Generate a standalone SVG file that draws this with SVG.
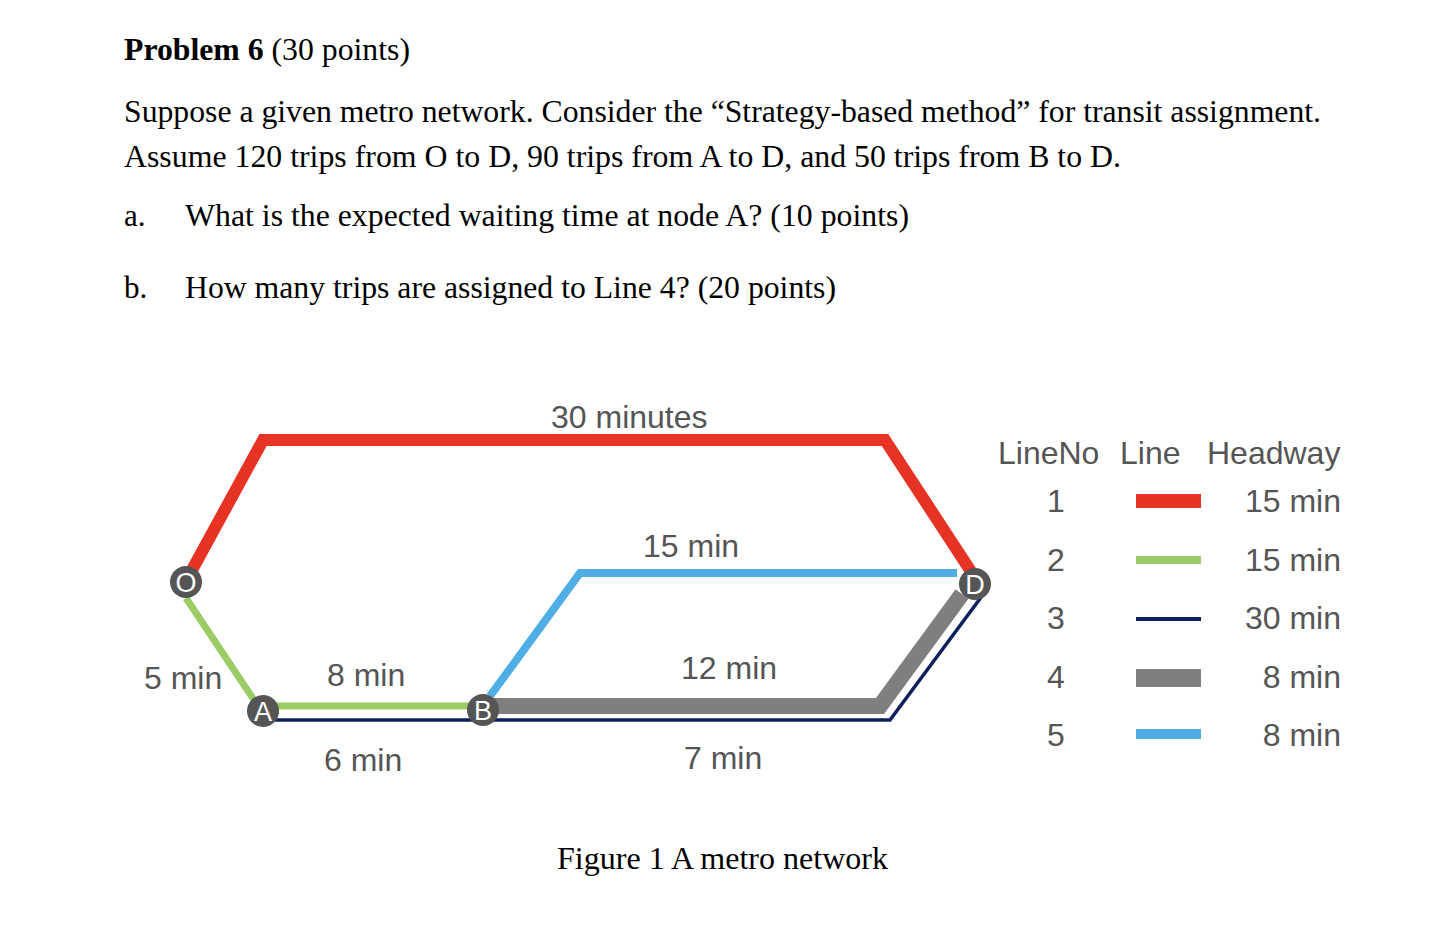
<svg xmlns="http://www.w3.org/2000/svg" width="1442" height="944" viewBox="0 0 1442 944">
<style>
.t{font-family:"Liberation Serif",serif;font-size:31px;fill:#000}
.s{font-family:"Liberation Sans",sans-serif;font-size:32px;fill:#555}
.n{font-family:"Liberation Sans",sans-serif;font-size:27px;fill:#fff;text-anchor:middle}
.l{fill:none;stroke-linejoin:miter}
</style>
<rect width="1442" height="944" fill="#fff"/>
<text class="t" x="124" y="60" textLength="286" lengthAdjust="spacingAndGlyphs"><tspan font-weight="bold">Problem 6</tspan> (30 points)</text>
<text class="t" x="124" y="122" textLength="1197" lengthAdjust="spacingAndGlyphs">Suppose a given metro network. Consider the “Strategy-based method” for transit assignment.</text>
<text class="t" x="124" y="167" textLength="997" lengthAdjust="spacingAndGlyphs">Assume 120 trips from O to D, 90 trips from A to D, and 50 trips from B to D.</text>
<text class="t" x="124" y="226">a.</text>
<text class="t" x="185" y="226" textLength="724" lengthAdjust="spacingAndGlyphs">What is the expected waiting time at node A? (10 points)</text>
<text class="t" x="124" y="298">b.</text>
<text class="t" x="185" y="298" textLength="651" lengthAdjust="spacingAndGlyphs">How many trips are assigned to Line 4? (20 points)</text>
<g id="connectors">
<polyline class="l" stroke="#e63323" stroke-width="12" points="192,570 263,440 885,440 972,573"/>
<polyline class="l" stroke="#9ccc65" stroke-width="7" points="186,598 258,706 483,706"/>
<polyline class="l" stroke="#0d1f5c" stroke-width="3.5" points="270,720 890,720 982,596"/>
<polyline class="l" stroke="#7f7f7f" stroke-width="16" points="483,706 880,706 962,594"/>
<polyline class="l" stroke="#4faee6" stroke-width="8" points="490,696 580,573 957,573"/>
</g>
<g id="node-O"><circle cx="186" cy="582" r="16" fill="#555"/><text class="n" x="186" y="592">O</text></g>
<g id="node-A"><circle cx="263" cy="711" r="16" fill="#555"/><text class="n" x="263" y="721">A</text></g>
<g id="node-B"><circle cx="483" cy="710" r="16" fill="#555"/><text class="n" x="483" y="720">B</text></g>
<g id="node-D"><circle cx="975" cy="584" r="16" fill="#555"/><text class="n" x="975" y="594">D</text></g>
<text class="s" x="551" y="428">30 minutes</text>
<text class="s" x="643" y="557">15 min</text>
<text class="s" x="681" y="679">12 min</text>
<text class="s" x="144" y="689">5 min</text>
<text class="s" x="327" y="686">8 min</text>
<text class="s" x="324" y="771">6 min</text>
<text class="s" x="684" y="769">7 min</text>
<g id="legend" class="s">
<text x="998" y="464">LineNo</text><text x="1120" y="464">Line</text><text x="1207" y="464">Headway</text>
<text x="1056" y="512" text-anchor="middle">1</text><text x="1341" y="512" text-anchor="end">15 min</text>
<text x="1056" y="571" text-anchor="middle">2</text><text x="1341" y="571" text-anchor="end">15 min</text>
<text x="1056" y="629" text-anchor="middle">3</text><text x="1341" y="629" text-anchor="end">30 min</text>
<text x="1056" y="688" text-anchor="middle">4</text><text x="1341" y="688" text-anchor="end">8 min</text>
<text x="1056" y="746" text-anchor="middle">5</text><text x="1341" y="746" text-anchor="end">8 min</text>
<rect x="1136" y="494" width="65" height="14" fill="#e63323"/>
<rect x="1136" y="556" width="65" height="8" fill="#9ccc65"/>
<rect x="1136" y="617" width="65" height="4" fill="#0d1f5c"/>
<rect x="1136" y="669" width="65" height="18" fill="#7f7f7f"/>
<rect x="1136" y="729" width="65" height="10" fill="#4faee6"/>
</g>
<text class="t" x="557" y="869" textLength="331" lengthAdjust="spacingAndGlyphs">Figure 1 A metro network</text>
</svg>
